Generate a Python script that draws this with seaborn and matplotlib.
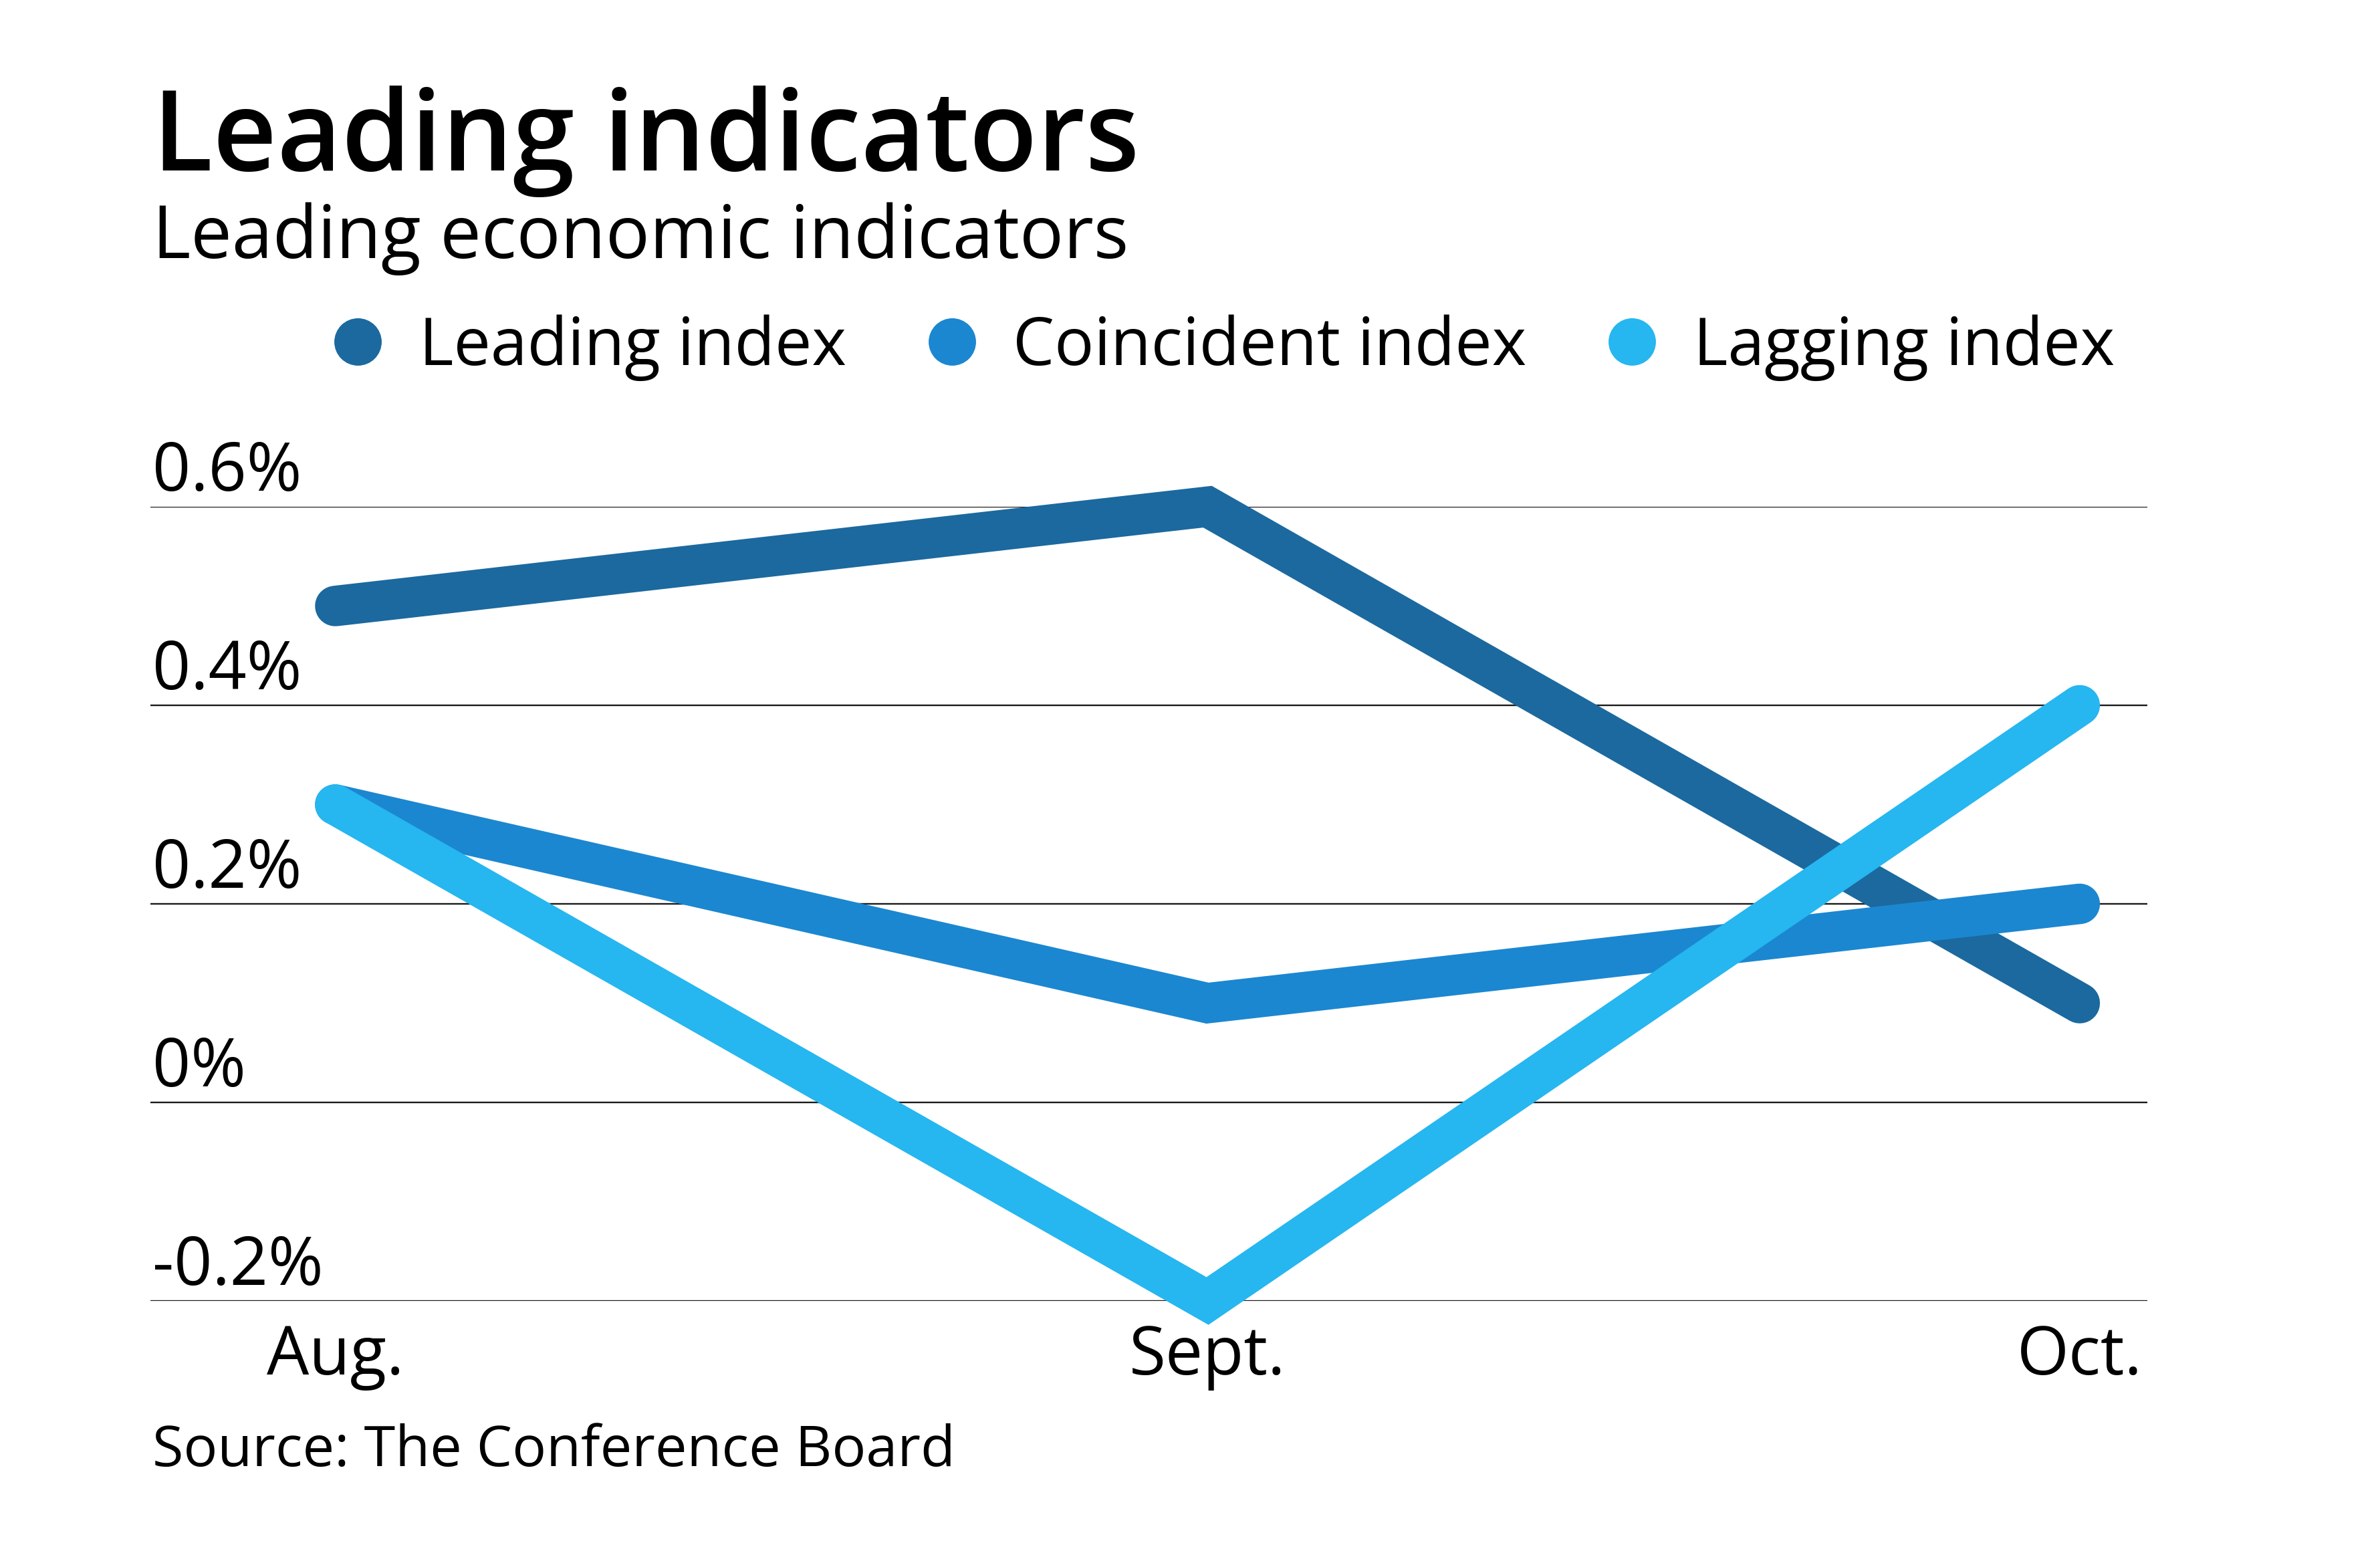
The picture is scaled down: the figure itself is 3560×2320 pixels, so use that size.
import matplotlib
matplotlib.use("Agg")
import matplotlib.pyplot as plt
from matplotlib.lines import Line2D
import seaborn as sns
import pandas as pd

# Data
months = ["Aug.", "Sept.", "Oct."]
leading = [0.5, 0.6, 0.1]
coincident = [0.3, 0.1, 0.2]
lagging = [0.3, -0.2, 0.4]
series_names = ["Leading index", "Coincident index", "Lagging index"]
y_ticks = [-0.2, 0.0, 0.2, 0.4, 0.6]
y_labels = ["-0.2%", "0%", "0.2%", "0.4%", "0.6%"]

colors = ["#1b699f", "#1b87d0", "#26b6f0"]

df = pd.DataFrame({
    "pos": list(range(len(months))) * 3,
    "value": leading + coincident + lagging,
    "series": [n for n in series_names for _ in months],
})

sns.set_theme(style="white")
plt.rcParams["font.family"] = ["Open Sans", "DejaVu Sans"]
plt.rcParams["text.color"] = "black"

fig = plt.figure(figsize=(35.6, 23.2), dpi=100)
ax = fig.add_axes([0.0632, 0.1612, 0.9022 - 0.0632, 0.6733 - 0.1612])

sns.lineplot(data=df, x="pos", y="value", hue="series", hue_order=series_names,
             palette=colors, linewidth=43.6, sort=False, legend=False, ax=ax,
             zorder=3)
for ln in ax.lines:
    ln.set_solid_capstyle("round")
    ln.set_solid_joinstyle("miter")
    ln.set_clip_on(False)

ax.set_xlim(-0.2119, 2.0774)
ax.set_ylim(-0.2, 0.6)
for s in ax.spines.values():
    s.set_visible(False)

# gridlines
for v in y_ticks:
    ax.axhline(v, color="#1a1a1a", linewidth=1.7, zorder=1)

ax.set_yticks([])
for v, lab in zip(y_ticks, y_labels):
    ax.annotate(lab, xy=(0, v), xycoords=("axes fraction", "data"),
                xytext=(2, 17), textcoords="offset points",
                ha="left", va="baseline", fontsize=72, color="black")

ax.set_xticks(range(len(months)))
ax.set_xticklabels(months, fontsize=72, color="black")
ax.tick_params(axis="x", length=0, pad=24)
ax.set_xlabel("")
ax.set_ylabel("")

# titles
fig.text(0.064, 0.8901, "Leading indicators", fontsize=120, fontweight="semibold",
         ha="left", va="baseline", color="black")
fig.text(0.064, 0.8336, "Leading economic indicators", fontsize=79,
         ha="left", va="baseline", color="black")
fig.text(0.064, 0.0547, "Source: The Conference Board", fontsize=61,
         ha="left", va="baseline", color="black")

# legend
handles = [Line2D([0], [0], marker="o", linestyle="none", markersize=50,
                  markerfacecolor=c, markeredgecolor=c) for c in colors]
fig.legend(handles, series_names, loc="center left",
           bbox_to_anchor=(0.1365, 0.7759), ncol=3, frameon=False,
           fontsize=71, labelcolor="black", handlelength=1.0,
           handletextpad=0.43, columnspacing=1.1, borderpad=0,
           borderaxespad=0)

fig.savefig("out.png", dpi=100, facecolor="white")
